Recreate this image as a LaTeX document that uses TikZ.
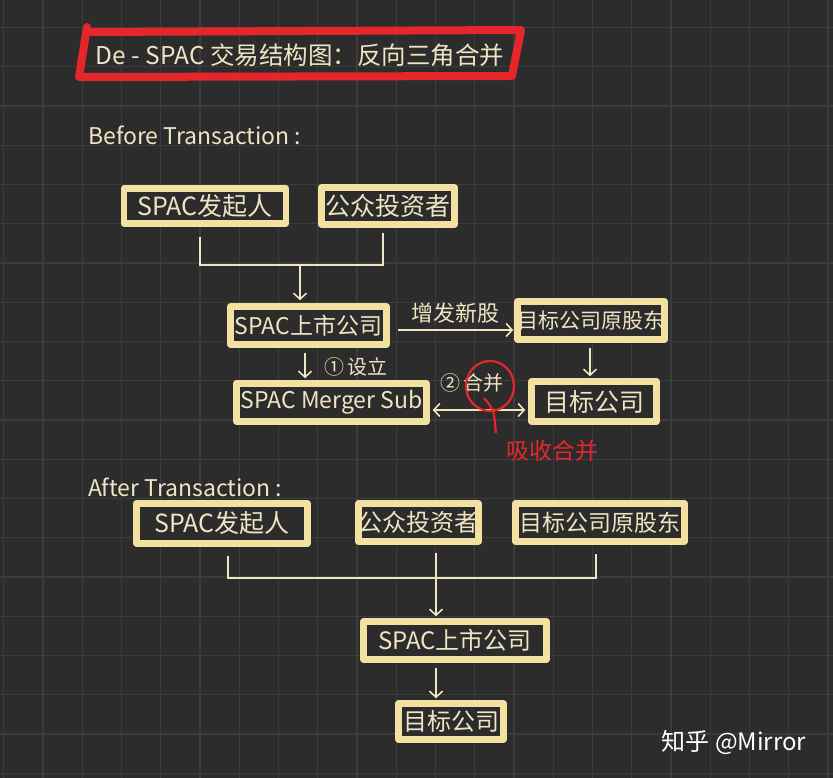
\documentclass[tikz,border=0pt]{standalone}
\usepackage{fontspec}
\setmainfont{Noto Sans CJK SC}
\usetikzlibrary{arrows.meta,calc}
\definecolor{bg}{HTML}{2C2C2C}
\definecolor{gridc}{HTML}{3C3C3C}
\definecolor{cream}{HTML}{F3E1A2}
\definecolor{txt}{HTML}{EFE5C2}
\definecolor{redm}{HTML}{E5262B}
\newcommand{\fs}[1]{\fontsize{#1}{#1}\selectfont}
\begin{document}
\begin{tikzpicture}[x=1pt,y=-1pt,
  box/.style={draw=cream, line width=6.5pt, fill=bg, text=txt, inner sep=0pt,
    font=\fs{24}, line join=round},
  lbl/.style={text=txt, font=\fs{20}, inner sep=0pt},
  conn/.style={draw=txt, line width=1.6pt},
  arr/.style={conn, -{Straight Barb[length=6pt,width=13pt]}},
  darr/.style={conn, {Straight Barb[length=6pt,width=13pt]}-{Straight Barb[length=6pt,width=13pt]}}]
\fill[bg] (0,0) rectangle (833,778);
\useasboundingbox (0,0) rectangle (833,778);
\foreach \i in {0,...,21} \draw[gridc, line width=1.3pt] ({3.8+39.25*\i},0) -- ++(0,778);
\foreach \j in {0,...,19} \draw[gridc, line width=1.3pt] (0,{27.5+39.25*\j}) -- ++(833,0);

% title
\draw[redm, line width=8pt, line join=round, line cap=round]
  (87,27) -- (79,77) -- (512,76) -- (521,30) -- (90,32);
\node[text=txt, font=\fs{24.5}, inner sep=0pt] (title) at (300,55) {De - SPAC 交易结构图：反向三角合并};

% before
\node[anchor=west, text=txt, font=\fs{23}, inner sep=0pt] (before) at (88,135) {Before Transaction :};
\node[box, font=\fs{25}, minimum width=162, minimum height=35] (b1) at (205,206) {SPAC发起人};
\node[box, font=\fs{25}, minimum width=133, minimum height=37] (b2) at (388,206) {公众投资者};
\node[box, font=\fs{23}, minimum width=156, minimum height=38] (b3) at (308.5,325.5) {SPAC上市公司};
\node[box, font=\fs{21}, minimum width=141, minimum height=38] (b4) at (591,320.5) {目标公司原股东};
\node[box, font=\fs{23}, minimum width=190, minimum height=38] (b5) at (331.5,402.5) {SPAC Merger Sub};
\node[box, font=\fs{25}, minimum width=125, minimum height=40] (b6) at (594,401.5) {目标公司};

\coordinate (j1) at (300,265);
\coordinate (s1) at (305,0);
\draw[conn] ([xshift=-5pt,yshift=-10pt]b1.south) |- (j1) -| ([xshift=-5pt,yshift=-5pt]b2.south);
\draw[arr] (j1) -- ([yshift=3pt]b3.north -| j1);
\draw[arr] ([yshift=-5pt]b3.south -| s1) -- ([yshift=2pt]b5.north -| s1);
\draw[arr] ([xshift=8pt,yshift=-4.5pt]b3.east) -- ([xshift=-1pt,yshift=-4.5pt]b3.east -| b4.west);
\draw[arr] ([xshift=-1pt,yshift=-5pt]b4.south) -- ([xshift=-1pt,yshift=2pt]b4.south |- b6.north);
\draw[darr] ([xshift=3pt,yshift=-7.5pt]b5.east) -- ([xshift=-3pt,yshift=-7.5pt]b5.east -| b6.west);

\node[lbl, font=\fs{22}] (l1) at (455,313) {增发新股};
\node[lbl] (l2) at (356,367) {①\,设立};
\node[lbl] (l3) at (472,383) {②\,合并};

% red annotation
\draw[redm, line width=2.2pt] (490,386) ellipse [x radius=24, y radius=25];
\node[text=redm, font=\fs{23}, inner sep=0pt] (absorb) at (552,451) {吸收合并};
\draw[redm, line width=2.2pt] (484,398) .. controls (494,410) .. ([xshift=-10pt,yshift=7pt]absorb.north west);

% after
\node[anchor=west, text=txt, font=\fs{23}, inner sep=0pt] (after) at (88,487) {After Transaction :};
\node[box, font=\fs{25}, minimum width=171, minimum height=40] (a1) at (222,523.5) {SPAC发起人};
\node[box, font=\fs{24}, minimum width=120, minimum height=38] (a2) at (418.5,522.5) {公众投资者};
\node[box, font=\fs{23}, minimum width=169, minimum height=38] (a3) at (600,522.5) {目标公司原股东};
\node[box, font=\fs{24}, minimum width=183, minimum height=38] (a4) at (455,640.5) {SPAC上市公司};
\node[box, font=\fs{24}, minimum width=105, minimum height=36] (a5) at (451,721.5) {目标公司};

\coordinate (j2) at (436,578);
\draw[conn] ([xshift=6pt,yshift=-9pt]a1.south) |- (j2) -| ([xshift=-4pt,yshift=-9pt]a3.south);
\draw[arr] ([xshift=17.5pt,yshift=-8pt]a2.south) -- ([yshift=2pt]a4.north -| j2);
\draw[arr] ([yshift=-5pt]a4.south -| j2) -- ([yshift=2pt]a5.north -| j2);

% watermark
\node[text=white, font=\fs{24}, inner sep=0pt] (wm) at (734,742) {知乎 @Mirror};
\end{tikzpicture}
\end{document}
